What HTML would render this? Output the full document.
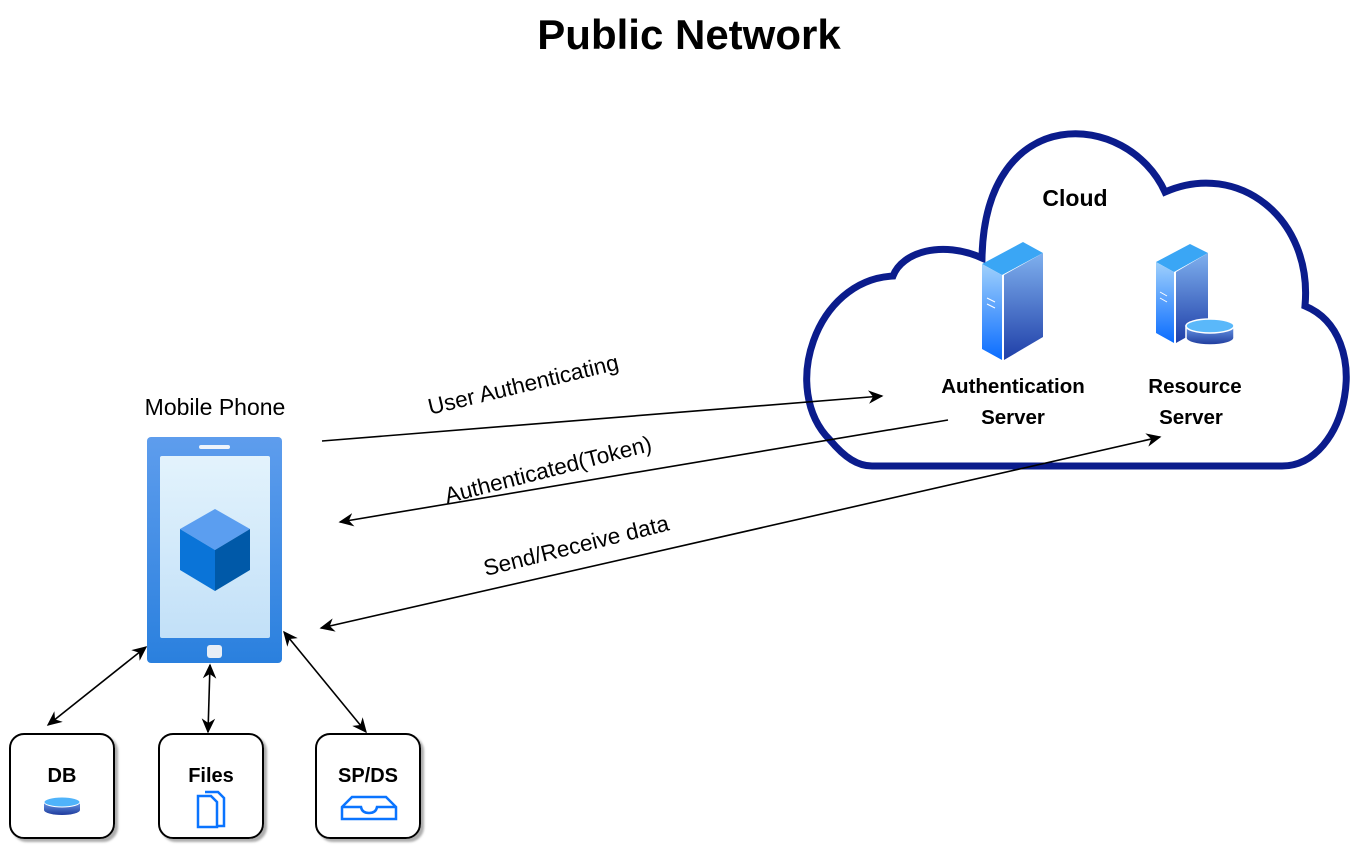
<!DOCTYPE html>
<html><head><meta charset="utf-8"><style>
html,body{margin:0;padding:0;background:#fff;}
svg{display:block;font-family:"Liberation Sans",Arial,sans-serif;}
</style></head><body>
<svg width="1358" height="845" viewBox="0 0 1358 845" xmlns="http://www.w3.org/2000/svg">
<defs>
<marker id="ah" viewBox="0 0 10 10" refX="9" refY="5" markerWidth="15" markerHeight="15" orient="auto-start-reverse" markerUnits="userSpaceOnUse">
<path d="M0,0.5 L10,5 L0,9.5 L3,5 Z" fill="#000"/></marker>
<linearGradient id="ph" x1="0" y1="0" x2="0" y2="1"><stop offset="0" stop-color="#5e9ded"/><stop offset="1" stop-color="#2a80de"/></linearGradient>
<linearGradient id="sc" x1="0" y1="0" x2="0" y2="1"><stop offset="0" stop-color="#e3f3fc"/><stop offset="1" stop-color="#c2e0f8"/></linearGradient>
<linearGradient id="sv" x1="0" y1="0" x2="0" y2="1"><stop offset="0" stop-color="#7fb0ee"/><stop offset="1" stop-color="#1f3fa8"/></linearGradient>
<linearGradient id="svl" x1="0" y1="0" x2="0" y2="1"><stop offset="0" stop-color="#9fd0fb"/><stop offset="1" stop-color="#0a6cff"/></linearGradient>
<linearGradient id="dk" x1="0" y1="0" x2="0" y2="1"><stop offset="0" stop-color="#6a9ae8"/><stop offset="1" stop-color="#1e3a9c"/></linearGradient>
<filter id="sh"><feDropShadow dx="3" dy="3" stdDeviation="1" flood-color="#999" flood-opacity="0.8"/></filter>
</defs>

<text x="689" y="49" text-anchor="middle" font-size="42" font-weight="bold">Public Network</text>

<!-- Cloud -->
<path d="M872 466 L1282 466 C1348 466 1375 335 1305 306 C1313 218 1238 160 1165 192 C1128 110 985 100 982 258 C942 240 902 252 893 276 C815 280 780 390 830 440 C845 458 858 466 872 466 Z" fill="#fff" stroke="#0b1c8c" stroke-width="7"/>
<text x="1075" y="206" text-anchor="middle" font-size="23" font-weight="bold">Cloud</text>

<!-- auth server -->
<polygon points="982,264 1023,242 1043,253 1002,275" fill="#3aa6f5"/>
<polygon points="982,264 1002,275 1002,360 982,349" fill="url(#svl)"/>
<polygon points="1004,275 1043,253 1043,337 1004,360" fill="url(#sv)"/>
<line x1="987" y1="298" x2="995" y2="302" stroke="#fff" stroke-width="1"/>
<line x1="987" y1="304" x2="995" y2="308" stroke="#fff" stroke-width="1"/>
<text x="1013" y="393" text-anchor="middle" font-size="20.5" font-weight="bold">Authentication</text>
<text x="1013" y="424" text-anchor="middle" font-size="20.5" font-weight="bold">Server</text>

<!-- resource server -->
<polygon points="1156,262 1190,244 1208,253 1174,272" fill="#3aa6f5"/>
<polygon points="1156,262 1174,272 1174,343 1156,333" fill="url(#svl)"/>
<polygon points="1176,272 1208,253 1208,325 1176,343" fill="url(#sv)"/>
<line x1="1160" y1="292" x2="1167" y2="296" stroke="#fff"/>
<line x1="1160" y1="298" x2="1167" y2="302" stroke="#fff"/>
<path d="M1186 326 L1186 338 A24 7 0 0 0 1234 338 L1234 326 Z" fill="url(#dk)" stroke="#fff" stroke-width="1.5"/>
<ellipse cx="1210" cy="326" rx="24" ry="7" fill="#5ab8fa" stroke="#fff" stroke-width="1.5"/>
<text x="1195" y="393" text-anchor="middle" font-size="20.5" font-weight="bold">Resource</text>
<text x="1191" y="424" text-anchor="middle" font-size="20.5" font-weight="bold">Server</text>

<!-- Phone -->
<text x="215" y="415" text-anchor="middle" font-size="23">Mobile Phone</text>
<rect x="147" y="437" width="135" height="226" rx="4" fill="url(#ph)"/>
<rect x="160" y="456" width="110" height="182" rx="2" fill="url(#sc)"/>
<rect x="199" y="445" width="31" height="4" rx="2" fill="#eef4fb"/>
<rect x="207" y="645" width="15" height="13" rx="3" fill="#e8eef6"/>
<polygon points="215,509 250,529 215,550 180,529" fill="#5b9ef0"/>
<polygon points="180,529 215,550 215,591 180,570" fill="#0a74d8"/>
<polygon points="215,550 250,529 250,570 215,591" fill="#0059a8"/>

<!-- boxes -->
<g filter="url(#sh)" fill="#fff" stroke="#000" stroke-width="2">
<rect x="10" y="734" width="104" height="104" rx="14"/>
<rect x="159" y="734" width="104" height="104" rx="14"/>
<rect x="316" y="734" width="104" height="104" rx="14"/>
</g>
<text x="62" y="782" text-anchor="middle" font-size="20" font-weight="bold">DB</text>
<text x="211" y="782" text-anchor="middle" font-size="20" font-weight="bold">Files</text>
<text x="368" y="782" text-anchor="middle" font-size="20" font-weight="bold">SP/DS</text>
<path d="M44 802 L44 810 A18 5 0 0 0 80 810 L80 802 Z" fill="url(#dk)"/>
<ellipse cx="62" cy="802" rx="18" ry="5" fill="#4fb3fa" stroke="#fff"/>
<path d="M205 792 L218 792 L224 798 L224 826 L211 826 L211 823" fill="#fff" stroke="#0a74ff" stroke-width="2.5"/>
<path d="M198 796 L211 796 L217 802 L217 827 L198 827 Z" fill="#fff" stroke="#0a74ff" stroke-width="2.5"/>
<path d="M342 807 L352 797 L386 797 L396 807 L396 819 L342 819 Z M342 807 L361 807 Q362 813 369 813 Q376 813 377 807 L396 807" fill="none" stroke="#0a74ff" stroke-width="2.5"/>

<!-- connectors -->
<g stroke="#000" stroke-width="1.6" fill="none">
<line x1="322" y1="441" x2="882" y2="396" marker-end="url(#ah)"/>
<line x1="948" y1="420" x2="340" y2="522" marker-end="url(#ah)"/>
<line x1="321" y1="628" x2="1160" y2="437" marker-start="url(#ah)" marker-end="url(#ah)"/>
<line x1="146" y1="647" x2="48" y2="725" marker-start="url(#ah)" marker-end="url(#ah)"/>
<line x1="210" y1="665" x2="208" y2="732" marker-start="url(#ah)" marker-end="url(#ah)"/>
<line x1="284" y1="632" x2="366" y2="732" marker-start="url(#ah)" marker-end="url(#ah)"/>
</g>
<text font-size="22.5" transform="translate(525,392) rotate(-13.5)" text-anchor="middle">User Authenticating</text>
<text font-size="22.5" transform="translate(550,477) rotate(-14.4)" text-anchor="middle">Authenticated(Token)</text>
<text font-size="22.5" transform="translate(578,553) rotate(-14)" text-anchor="middle">Send/Receive data</text>
</svg>
</body></html>
